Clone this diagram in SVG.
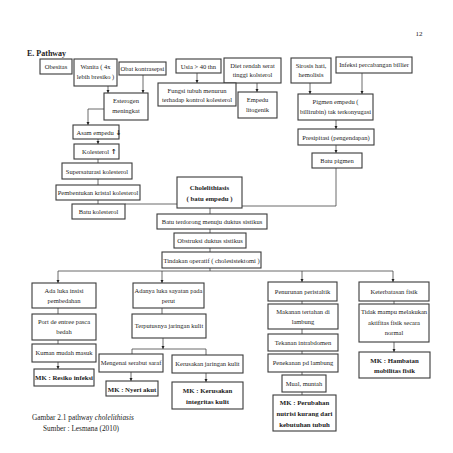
<svg xmlns="http://www.w3.org/2000/svg" width="453" height="453" viewBox="0 0 453 453">
<defs>
<marker id="ah" viewBox="0 0 6 6" refX="6" refY="3" markerWidth="3.5" markerHeight="3.5" markerUnits="userSpaceOnUse" orient="auto"><path d="M0,0L6,3L0,6z" fill="#222"/></marker>
<style>
rect{fill:#fff;stroke:#3a3a3a;stroke-width:1.1}
text{font-family:"Liberation Serif","Times New Roman",serif;font-size:6.5px;fill:#222;text-anchor:middle}
.bd{font-weight:bold;font-size:6.8px}
.l{text-anchor:start}
.ar{font-family:"DejaVu Sans",sans-serif;font-weight:bold;font-size:7px}
#connectors path{fill:none;stroke:#444;stroke-width:0.8}
#connectors path.a{marker-end:url(#ah)}
</style>
</defs>
<rect x="0" y="0" width="453" height="453" style="fill:#fff;stroke:none"/>
<text x="419" y="36" style="font-size:7px">12</text>
<text x="27" y="56" class="l" style="font-weight:bold;font-size:8px">E. Pathway</text>

<g id="connectors">
<path class="a" d="M108,86V93"/>
<path class="a" d="M143,75V93"/>
<path class="a" d="M197,73V83"/>
<path class="a" d="M257,83V92"/>
<path class="a" d="M310,83V94"/>
<path class="a" d="M362,73V94"/>
<path class="a" d="M104,109H88V125"/>
<path class="a" d="M98,139V144"/>
<path d="M98,159V163"/>
<path d="M98,179V185"/>
<path d="M98,200V204"/>
<path d="M125,204H177"/>
<path class="a" d="M336,120V129"/>
<path class="a" d="M336,145V153"/>
<path d="M336,168V206H242"/>
<path d="M210,208V214"/>
<path d="M210,229V233"/>
<path d="M210,248V252"/>
<path d="M210,268V271"/>
<path d="M58,271H393"/>
<path class="a" d="M58,271V283"/>
<path class="a" d="M162,271V283"/>
<path class="a" d="M302,271V282"/>
<path class="a" d="M393,271V282"/>
<path d="M58,308V314"/>
<path d="M58,340V344"/>
<path class="a" d="M58,362V369"/>
<path d="M162,308V314"/>
<path class="a" d="M163,338V349"/>
<path d="M132,349H206"/>
<path d="M132,349V354"/>
<path d="M206,349V355"/>
<path class="a" d="M131,372V381"/>
<path class="a" d="M206,373V382"/>
<path d="M302,301V304"/>
<path d="M302,329V334"/>
<path d="M302,351V354"/>
<path d="M302,372V375"/>
<path d="M302,392V395"/>
<path d="M394,301V304"/>
<path class="a" d="M394,342V352"/>
</g>

<g id="obesitas"><rect x="40" y="59" width="32" height="15"/><text x="56" y="69">Obesitas</text></g>
<g id="wanita"><rect x="74" y="59" width="43" height="27"/><text x="95.5" y="69">Wanita ( 4x</text><text x="95.5" y="79">lebih bresiko )</text></g>
<g id="obat"><rect x="119" y="62" width="47" height="13"/><text x="142.5" y="71">Obat kontrasepsi</text></g>
<g id="usia"><rect x="176" y="59" width="45" height="14"/><text x="198.5" y="68.5">Usia &gt; 40 thn</text></g>
<g id="diet"><rect x="224" y="58" width="57" height="25"/><text x="252.5" y="67.5">Diet rendah serat</text><text x="252.5" y="77">tinggi kolsterol</text></g>
<g id="sirosis"><rect x="291" y="58" width="40" height="25"/><text x="311" y="67.5">Sirosis hati,</text><text x="311" y="77">hemolisis</text></g>
<g id="infeksi"><rect x="336" y="57" width="76" height="16"/><text x="374" y="67">Infeksi percabangan billier</text></g>
<g id="fungsi"><rect x="158" y="83" width="78" height="23"/><text x="197" y="92.5">Fungsi tubuh menurun</text><text x="197" y="101.5">terhadap kontrol kolesterol</text></g>
<g id="empedu"><rect x="238" y="92" width="39" height="26"/><text x="257.5" y="102">Empedu</text><text x="257.5" y="112">litogenik</text></g>
<g id="esterogen"><rect x="104" y="93" width="44" height="27"/><text x="126" y="103">Esterogen</text><text x="126" y="113">meningkat</text></g>
<g id="pigmen"><rect x="298" y="94" width="75" height="26"/><text x="335.5" y="104">Pigmen empedu (</text><text x="335.5" y="114">billirubin) tak terkonyugasi</text></g>
<g id="asam"><rect x="73" y="125" width="46" height="14"/><text class="l" x="76.5" y="134.5">Asam empedu <tspan class="ar">↓</tspan></text></g>
<g id="presipitasi"><rect x="298" y="129" width="76" height="16"/><text x="336" y="139.5">Presipitasi (pengendapan)</text></g>
<g id="kolesterol"><rect x="74" y="144" width="45" height="15"/><text class="l" x="82" y="154">Kolesterol <tspan class="ar">↑</tspan></text></g>
<g id="batupigmen"><rect x="312" y="153" width="50" height="15"/><text x="337" y="163">Batu pigmen</text></g>
<g id="supersaturasi"><rect x="62" y="163" width="70" height="16"/><text x="97" y="173.5">Supersaturasi kolesterol</text></g>
<g id="pembentukan"><rect x="56" y="185" width="84" height="15"/><text x="98" y="195">Pembentukan kristal kolesterol</text></g>
<g id="batukolesterol"><rect x="72" y="204" width="53" height="15"/><text x="98.5" y="214">Batu kolesterol</text></g>
<g id="cholelithiasis"><rect x="177" y="177" width="65" height="31"/><text class="bd" x="209.5" y="189.5">Cholelithiasis</text><text class="bd" x="209.5" y="200.5">( batu empedu )</text></g>
<g id="terdorong"><rect x="157" y="214" width="110" height="15"/><text x="212" y="224">Batu terdorong menuju duktus sistikus</text></g>
<g id="obstruksi"><rect x="174" y="233" width="72" height="15"/><text x="210" y="243">Obstruksi duktus sistikus</text></g>
<g id="tindakan"><rect x="162" y="252" width="99" height="16"/><text x="211.5" y="262.5">Tindakan operatif ( cholesistektomi )</text></g>
<g id="adaluka"><rect x="32" y="283" width="64" height="25"/><text x="64" y="292.5">Ada luka insisi</text><text x="64" y="302.5">pembedahan</text></g>
<g id="sayatan"><rect x="133" y="283" width="71" height="25"/><text x="168.5" y="292.5">Adanya luka sayatan pada</text><text x="168.5" y="302.5">perut</text></g>
<g id="penurunan"><rect x="268" y="282" width="69" height="19"/><text x="302.5" y="294">Penurunan peristaltik</text></g>
<g id="keterbatasan"><rect x="359" y="282" width="70" height="19"/><text x="394" y="294">Keterbatasan fisik</text></g>
<g id="port"><rect x="32" y="314" width="64" height="26"/><text x="64" y="324">Port de entree pasca</text><text x="64" y="334">bedah</text></g>
<g id="terputus"><rect x="132" y="314" width="74" height="24"/><text x="169" y="328">Terputusnya jaringan kulit</text></g>
<g id="makanan"><rect x="268" y="304" width="70" height="25"/><text x="303" y="313.5">Makanan tertahan di</text><text x="303" y="323.5">lambung</text></g>
<g id="tidakmampu"><rect x="359" y="304" width="70" height="38"/><text x="394" y="314">Tidak mampu melakukan</text><text x="394" y="324.5">aktifitas fisik secara</text><text x="394" y="335">normal</text></g>
<g id="kuman"><rect x="32" y="344" width="64" height="18"/><text x="64" y="355">Kuman mudah masuk</text></g>
<g id="tekanan"><rect x="268" y="334" width="70" height="17"/><text x="303" y="345">Tekanan intrabdomen</text></g>
<g id="mengenai"><rect x="99" y="354" width="64" height="18"/><text x="131" y="365">Mengenai serabut saraf</text></g>
<g id="kerusakanjar"><rect x="172" y="355" width="71" height="18"/><text x="207.5" y="366">Kerusakan jaringan kulit</text></g>
<g id="penekanan"><rect x="268" y="354" width="70" height="18"/><text x="303" y="365">Penekanan pd lambung</text></g>
<g id="mkhambatan"><rect x="359" y="352" width="71" height="26"/><text class="bd" x="394.5" y="362.5">MK : Hambatan</text><text class="bd" x="394.5" y="373">mobilitas fisik</text></g>
<g id="mkresiko"><rect x="34" y="369" width="60" height="17"/><text class="bd" x="64" y="380">MK : Resiko infeksi</text></g>
<g id="mual"><rect x="282" y="375" width="44" height="17"/><text x="304" y="386">Mual, muntah</text></g>
<g id="mknyeri"><rect x="106" y="381" width="52" height="15"/><text class="bd" x="132" y="391.5">MK : Nyeri akut</text></g>
<g id="mkkerusakan"><rect x="172" y="382" width="71" height="27"/><text class="bd" x="207.5" y="393">MK : Kerusakan</text><text class="bd" x="207.5" y="404">integritas kulit</text></g>
<g id="mkperubahan"><rect x="273" y="395" width="63" height="36"/><text class="bd" x="304.5" y="405">MK : Perubahan</text><text class="bd" x="304.5" y="416">nutrisi kurang dari</text><text class="bd" x="304.5" y="427">kebutuhan tubuh</text></g>

<text class="l" x="32" y="420" style="font-size:7.3px">Gambar 2.1 pathway <tspan font-style="italic">cholelithiasis</tspan></text>
<text class="l" x="43" y="431" style="font-size:7.3px">Sumber : Lesmana (2010)</text>
</svg>
